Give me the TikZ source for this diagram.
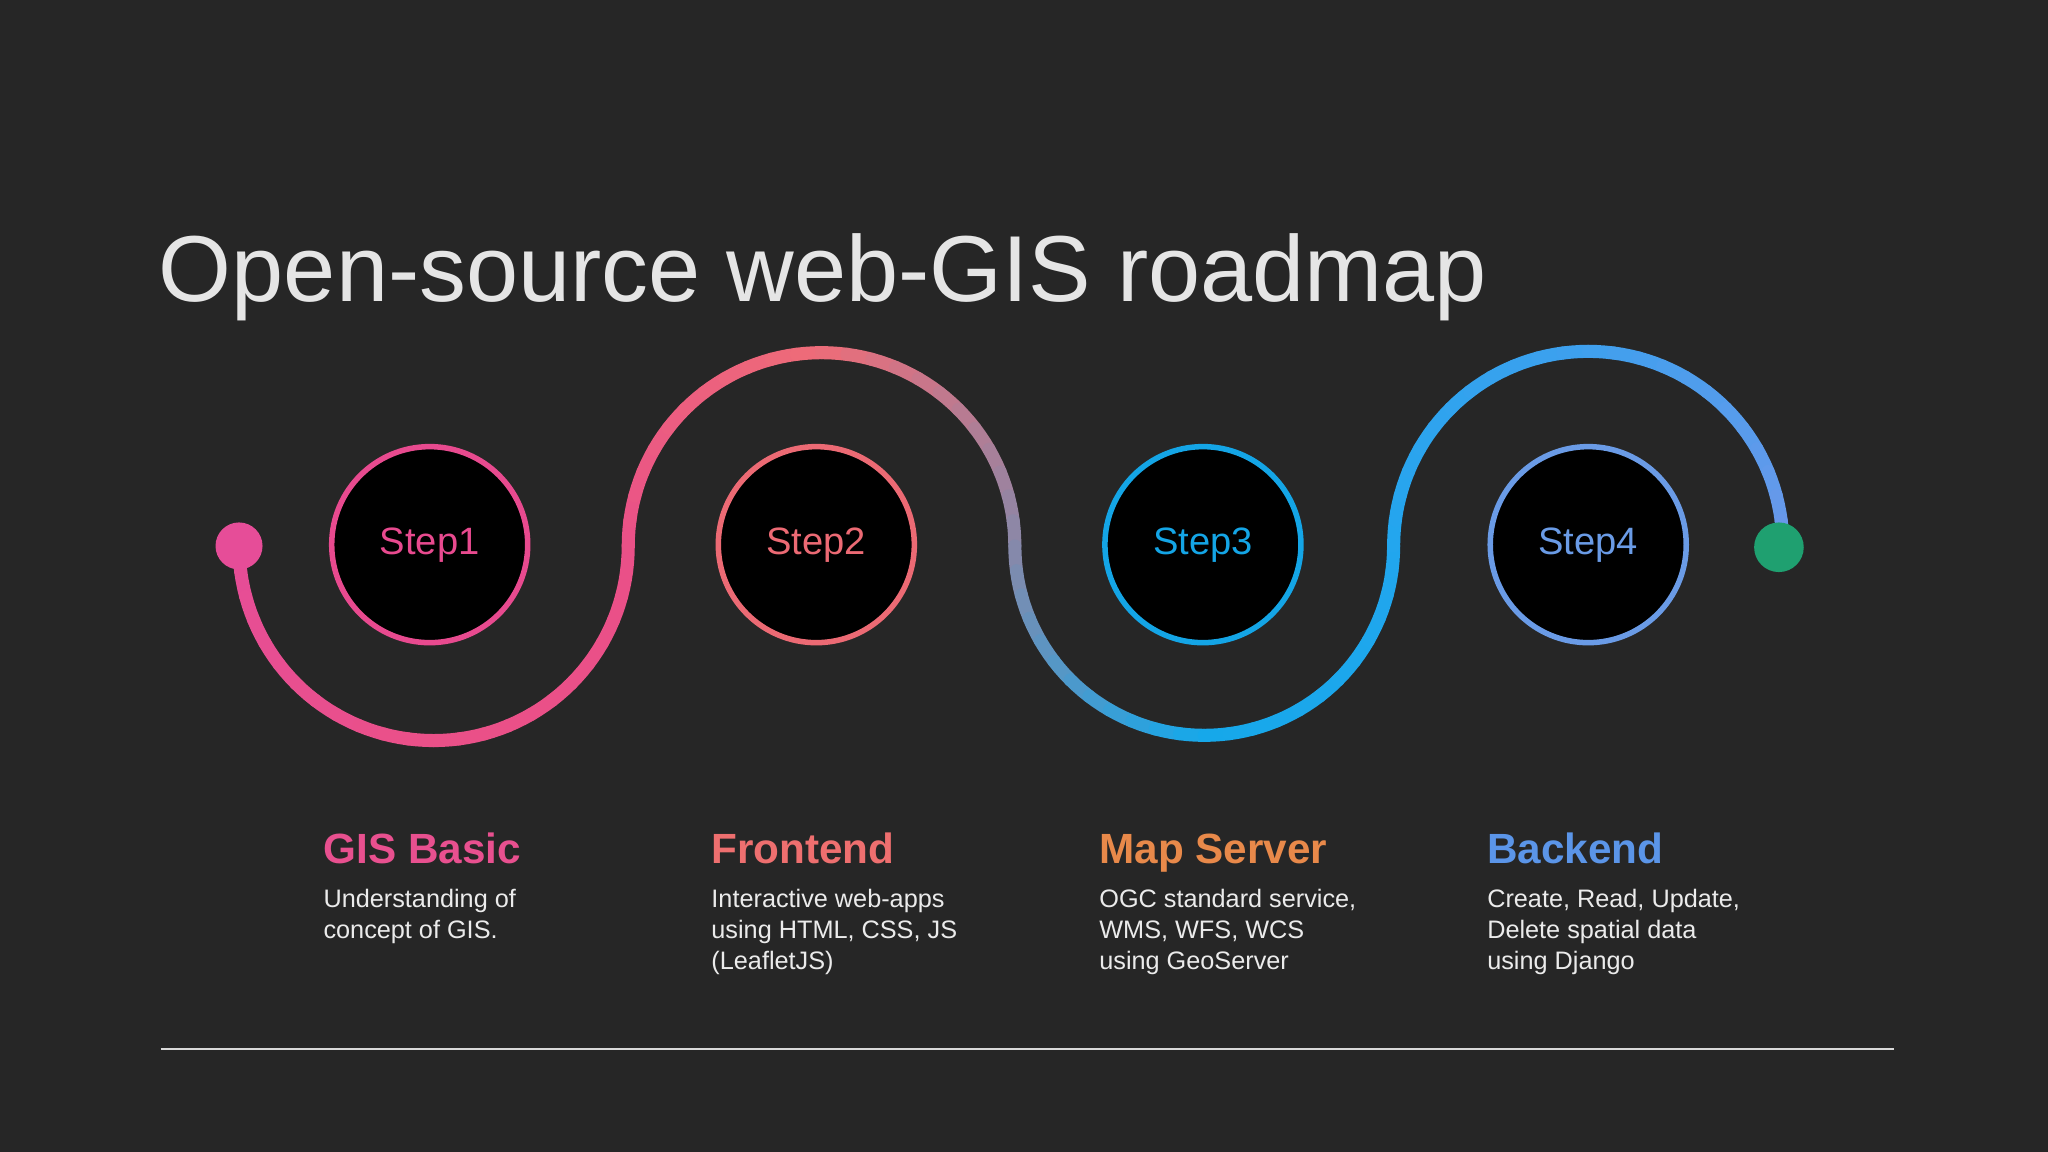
\documentclass[tikz,border=0pt]{standalone}
\usepackage{fontspec}
\setmainfont{Liberation Sans}
\definecolor{bg}{HTML}{262626}
\definecolor{cA}{HTML}{E64D98}
\definecolor{cB}{HTML}{EA5088}
\definecolor{cC}{HTML}{EE6C78}
\definecolor{cD}{HTML}{8A88A8}
\definecolor{cE}{HTML}{16A8EA}
\definecolor{cF}{HTML}{22A6EE}
\definecolor{cG}{HTML}{3EA0EE}
\definecolor{cH}{HTML}{6A98EA}
\definecolor{hA}{HTML}{E8508F}
\definecolor{hB}{HTML}{EE6F6F}
\definecolor{hC}{HTML}{E8894A}
\definecolor{hD}{HTML}{5B95E8}
\definecolor{sA}{HTML}{E84A8F}
\definecolor{sB}{HTML}{EC6A74}
\definecolor{sC}{HTML}{14A5E6}
\definecolor{sD}{HTML}{6A9BE6}
\definecolor{dotg}{HTML}{1FA070}
\newcommand{\myseg}[6]{%
  \foreach \i in {0,...,11}{%
    \pgfmathsetmacro{\ta}{#3+(#4-#3)*\i/12}%
    \pgfmathsetmacro{\tb}{#3+(#4-#3)*(\i+1)/12}%
    \pgfmathsetmacro{\pp}{100*(\i+0.5)/12}%
    \draw[wave,color=#6!\pp!#5] plot[domain=\ta:\tb,samples=4,variable=\t] ({#1+#2*cos(\t)},{418+#2*sin(\t)});
  }}
\tikzset{
  wave/.style={line width=2.85pt,line cap=round},
  stepc/.style={circle,draw,line width=1.2pt,fill=black,minimum size=1.5cm,font=\fontsize{8.3}{10}\selectfont},
  head/.style={anchor=base west,inner sep=0,font=\fontsize{9.2}{11}\selectfont\bfseries},
  body/.style={anchor=north west,inner sep=0,align=left,font=\fontsize{5.5}{6.75}\selectfont,text=white!92!black}
}
\begin{document}
\begin{tikzpicture}[x=0.01cm,y=-0.01cm]
\fill[bg] (0,0) rectangle (1568,882);
\node[anchor=base west,inner sep=0,text=white!90!black,font=\fontsize{20.4}{24}\selectfont] (title) at (121,231) {Open-source web-GIS roadmap};
\myseg{332}{149}{180}{90}{cA}{cB}
\myseg{332}{149}{90}{0}{cB}{cB}
\myseg{629}{148}{180}{270}{cB}{cC}
\myseg{629}{148}{270}{360}{cC}{cD}
\myseg{922}{145}{180}{90}{cD}{cE}
\myseg{922}{145}{90}{0}{cE}{cF}
\myseg{1216}{149}{180}{270}{cF}{cG}
\myseg{1216}{149}{270}{360}{cG}{cH}
\fill[cA] (183,418) circle (18);
\fill[dotg] (1362,419) circle (19);
\node[stepc,draw=sA,text=sA] (s1) at (329,417) {Step1};
\node[stepc,draw=sB,text=sB] (s2) at (625,417) {Step2};
\node[stepc,draw=sC,text=sC] (s3) at (921,417) {Step3};
\node[stepc,draw=sD,text=sD] (s4) at (1216,417) {Step4};
\node[head,text=hA] (h1) at (247,661) {GIS Basic};
\node[head,text=hB] (h2) at (544,661) {Frontend};
\node[head,text=hC] (h3) at (841,661) {Map Server};
\node[head,text=hD] (h4) at (1138,661) {Backend};
\node[body] (b1) at (247,680) {Understanding of\\concept of GIS.};
\node[body] (b2) at (544,680) {Interactive web-apps\\using HTML, CSS, JS\\(LeafletJS)};
\node[body] (b3) at (841,680) {OGC standard service,\\WMS, WFS, WCS\\using GeoServer};
\node[body] (b4) at (1138,680) {Create, Read, Update,\\Delete spatial data\\using Django};
\coordinate (l1) at (123,803);
\coordinate (l2) at (1450,803);
\draw[white!85!black,line width=0.4pt] (l1) -- (l2);
\end{tikzpicture}
\end{document}
